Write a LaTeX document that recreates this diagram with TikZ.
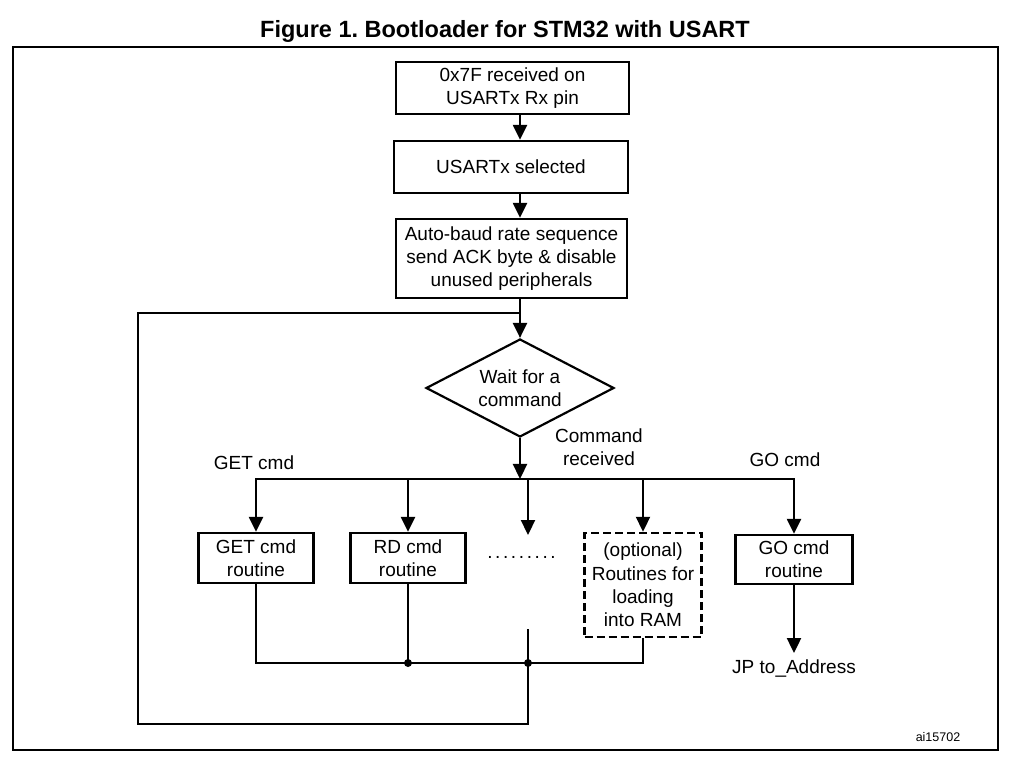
\documentclass[tikz,border=0pt]{standalone}
\usepackage{fontspec}
\setmainfont{Liberation Sans}
\usetikzlibrary{shapes.geometric,arrows.meta}
\newcommand\dotsep{.\hspace{2.6pt}}
\frenchspacing
\begin{document}
\begin{tikzpicture}[x=1pt,y=-1pt,
  every node/.style={font=\fontsize{19}{23.3}\selectfont},
  box/.style={draw, line width=2.3pt, align=center, inner sep=0pt},
  dbox/.style={box, dash pattern=on 8pt off 4pt, line width=2.5pt},
  dec/.style={diamond, draw, line width=2.2pt, aspect=1.92, minimum width=188pt, minimum height=98pt, inner sep=0pt, align=center},
  ln/.style={line width=2.3pt},
  thinln/.style={line width=1.2pt},
  arr/.style={ln, -{Triangle[length=15pt,width=14pt]}},
  lbl/.style={inner sep=0pt, align=center},
  jdot/.style={circle, fill, inner sep=0pt, minimum size=8pt}]
\useasboundingbox (0,0) rectangle (1013,767);
% title and frame
\node[inner sep=0pt, font=\fontsize{23.5}{28}\selectfont\bfseries] (title) at (505,31) {Figure 1. Bootloader for STM32 with USART};
\node[draw, line width=2.3pt, minimum width=985pt, minimum height=703pt, inner sep=0pt] (frame) at (505.5,398.5) {};
% boxes
\node[box, minimum width=233pt, minimum height=52pt] (b1) at (512.5,88) {0x7F received on\\USARTx Rx pin};
\node[box, minimum width=234pt, minimum height=52pt] (b2) at (511,167) {USARTx selected};
\node[box, minimum width=231pt, minimum height=79pt] (b3) at (511.5,258.5) {Auto-baud rate sequence\\send ACK byte \& disable\\unused peripherals};
\node[dec] (d) at (520,388) {Wait for a\\command};
\node[box, minimum width=115pt, minimum height=50pt] (get) at (256,558) {GET cmd\\routine};
\node[box, minimum width=115pt, minimum height=50pt] (rd) at (408,558) {RD cmd\\routine};
\node[dbox, minimum width=117pt, minimum height=104pt] (opt) at (643,585) {(optional)\\Routines for\\loading\\into RAM};
\node[box, minimum width=117pt, minimum height=49pt] (go) at (794,559.5) {GO cmd\\routine};
\node[inner sep=0pt] (dots) at (521.5,557) {\dotsep\dotsep\dotsep\dotsep\dotsep\dotsep\dotsep\dotsep.};
% labels
\node[lbl] (getl) at (254,463) {GET cmd};
\node[lbl] (gol) at (785,460) {GO cmd};
\node[lbl] (cmdl) at (599,447) {Command\\received};
\node[lbl, inner ysep=7pt] (jp) at (794,669) {JP to\_Address};
\node[lbl, font=\fontsize{12.5}{15}\selectfont] (ai) at (938,737) {ai15702};
% coordinates
\coordinate (lp1) at (520,313);
\coordinate (lpA) at (138,313);
\coordinate (lpB) at (138,724);
\coordinate (lpC) at (528,724);
\coordinate (dotsEnd) at (528,629);
\coordinate (busC) at (520,479);
\coordinate (dotsTip) at (528,535);
\node[jdot] (j2) at (408,663) {};
\node[jdot] (j3) at (528,663) {};
% connectors
\draw[arr] (b1.south -| d.north) -- (b2.north -| d.north);
\draw[arr] (b2.south -| d.north) -- (b3.north -| d.north);
\draw[arr] (b3.south -| d.north) -- (d.north);
\draw[ln] (lp1) -- (lpA) -- (lpB) -- (lpC) -- (dotsEnd);
\draw[arr] (d.south) -- (busC);
\draw[arr] (busC) -| (get.north);
\draw[arr] (busC) -| (go.north);
\draw[arr] (rd.north |- busC) -- (rd.north);
\draw[arr] (dotsTip |- busC) -- (dotsTip);
\draw[arr] (opt.north |- busC) -- (opt.north);
\draw[thinln] (get.south) |- (j2.center);
\draw[ln] (rd.south) -- (j2.center);
\draw[ln] (j2.center) -- (j3.center);
\draw[ln] (opt.south) |- (j3.center);
\draw[arr] (go.south) -- (jp.north);
\end{tikzpicture}
\end{document}
